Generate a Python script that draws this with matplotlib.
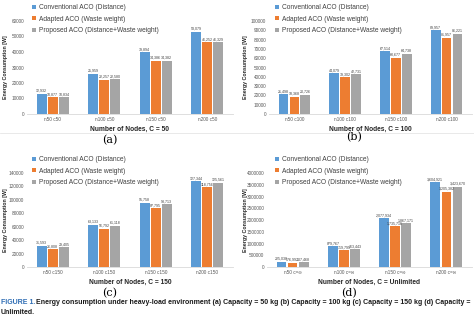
import numpy as np
import matplotlib.pyplot as plt

plt.rcParams["font.family"] = ["Liberation Sans", "DejaVu Sans"]

# ---------------------------------------------------------
# Data
# ---------------------------------------------------------
series_names = ["Conventional ACO (Distance)",
                "Adapted ACO (Waste weight)",
                "Proposed ACO (Distance+Waste weight)"]
colors = ["#5B9BD5", "#ED7D31", "#A5A5A5"]

cats_a = ["n50 c50", "n100 c50", "n150 c50", "n200 c50"]
conv_a = [12932, 25959, 39894, 53079]
adap_a = [10877, 22257, 34386, 46252]
prop_a = [10834, 22580, 34382, 46329]

cats_b = ["n50 c100", "n100 c100", "n150 c100", "n200 c100"]
conv_b = [21498, 44079, 67514, 89957]
adap_b = [18368, 39302, 60677, 81957]
prop_b = [20726, 42731, 64738, 86221]

cats_c = ["n50 c150", "n100 c150", "n150 c150", "n200 c150"]
conv_c = [31593, 63133, 95758, 127344]
adap_c = [26808, 56792, 87795, 118756]
prop_c = [29405, 61118, 93713, 125561]

cats_d = ["n50 c=∞", "n100 c=∞", "n150 c=∞", "n200 c=∞"]
conv_d = [225038, 879767, 2077934, 3604921]
adap_d = [176992, 719799, 1735716, 3205382]
prop_d = [207468, 763443, 1867171, 3423670]

W, H = 474, 319
fig = plt.figure(figsize=(W / 100, H / 100), dpi=100)


def px_axes(left, top, right, bottom):
    return fig.add_axes([left / W, 1 - bottom / H, (right - left) / W, (bottom - top) / H])


def panel(box, cats, series, ymax, ystep, xlabel, tag, tag_xy, leg_xy, ylab_x):
    ax = px_axes(*box)
    x = np.arange(len(cats))
    bw = 0.19
    gap = 0.025
    bars = []
    for i, vals in enumerate(series):
        off = (i - 1) * (bw + gap)
        b = ax.bar(x + off, vals, bw, color=colors[i], label=series_names[i])
        bars.append(b)
        for xi, v in zip(x + off, vals):
            ax.text(xi, v + ymax * 0.01, f"{v:,}", ha="center", va="bottom",
                    fontsize=2.6, color="#404040")
    ax.set_xlim(-0.5, len(cats) - 0.5)
    ax.set_ylim(0, ymax)
    ax.set_yticks(np.arange(0, ymax + 1, ystep))
    ax.set_yticklabels([str(int(t)) for t in np.arange(0, ymax + 1, ystep)])
    ax.set_xticks(x)
    ax.set_xticklabels(cats)
    ax.tick_params(length=0, labelsize=3.4, colors="#595959", pad=2)
    for s in ["top", "right", "left"]:
        ax.spines[s].set_visible(False)
    ax.spines["bottom"].set_color("#D9D9D9")
    ax.spines["bottom"].set_linewidth(0.6)
    ax.set_xlabel(xlabel, fontsize=4.8, fontweight="bold", labelpad=3, color="#262626")
    fig.text(ylab_x / W, 1 - ((box[1] + box[3]) / 2) / H, "Energy Consumption [W]",
             rotation=90, ha="center", va="center", fontsize=3.8,
             fontweight="bold", color="#262626")
    fig.text(tag_xy[0] / W, 1 - tag_xy[1] / H, tag, ha="center", va="center",
             fontsize=8, family="DejaVu Serif")
    ax.legend(handles=bars, loc="upper left",
              bbox_to_anchor=(leg_xy[0] / W, 1 - leg_xy[1] / H),
              bbox_transform=fig.transFigure, frameon=False, fontsize=4.8,
              labelspacing=0.7, handlelength=0.6, handleheight=0.6,
              handletextpad=0.4, borderaxespad=0, borderpad=0,
              labelcolor="#404040")
    return ax


panel((27, 21, 233, 114), cats_a, [conv_a, adap_a, prop_a], 60000, 10000,
      "Number of Nodes, C = 50", "(a)", (110, 140), (32, 4), 6)
panel((269, 21, 472, 114), cats_b, [conv_b, adap_b, prop_b], 100000, 10000,
      "Number of Nodes, C = 100", "(b)", (354, 137), (275, 4), 245)
panel((27, 173, 233, 267), cats_c, [conv_c, adap_c, prop_c], 140000, 20000,
      "Number of Nodes, C = 150", "(c)", (110, 293), (32, 156), 6)
panel((267, 173, 472, 267), cats_d, [conv_d, adap_d, prop_d], 4000000, 500000,
      "Number of Nodes, C = Unlimited", "(d)", (349, 293), (275, 156), 245)

# faint chart-area border
fig.add_artist(plt.Line2D([0, 1], [1 - 133 / H, 1 - 133 / H], color="#E0E0E0", lw=0.5))

# caption
fig.text(1 / W, 1 - 302 / H, "FIGURE 1.", fontsize=5.0, fontweight="bold",
         color="#2E6DB4", va="center", ha="left")
fig.text(36 / W, 1 - 302 / H,
         "Energy consumption under heavy-load environment (a) Capacity = 50 kg "
         "(b) Capacity = 100 kg (c) Capacity = 150 kg (d) Capacity =",
         fontsize=5.0, fontweight="bold", color="#1a1a1a", va="center", ha="left")
fig.text(1 / W, 1 - 313 / H, "Unlimited.", fontsize=5.0, fontweight="bold",
         color="#1a1a1a", va="center", ha="left")

fig.savefig("out.png", dpi=100)
